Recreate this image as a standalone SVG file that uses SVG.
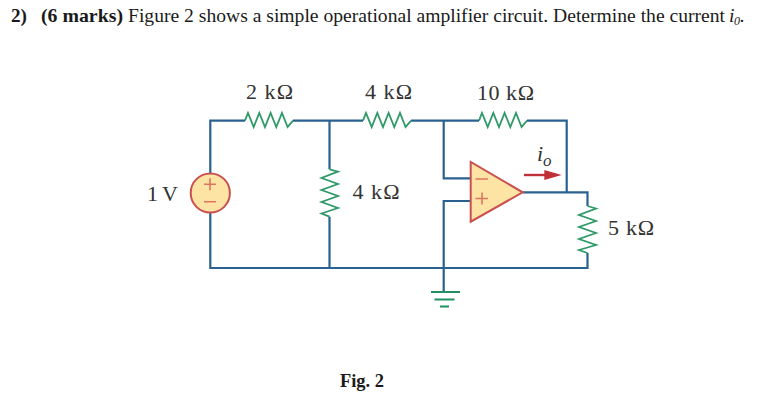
<svg xmlns="http://www.w3.org/2000/svg" width="774" height="402" viewBox="0 0 774 402">
<style>
text{font-family:"Liberation Serif",serif;fill:#333}
.t{font-size:19.500px;fill:#1a1a1a}
.b{font-weight:bold}
.l{font-size:22px}
.w{fill:none;stroke:#2a6191;stroke-width:2.200}
.r{fill:none;stroke:#2f9a68;stroke-width:1.800}
.s{fill:#fde4a4;stroke:#c9504f;stroke-width:2}
.p{fill:none;stroke:#dd7560;stroke-width:1.600}
.g{fill:none;stroke:#1f9160;stroke-width:2}
</style>
<rect width="774" height="402" fill="#fff"/>
<g id="title">
<text class="t b" x="11" y="22" textLength="16" lengthAdjust="spacingAndGlyphs">2)</text>
<text class="t b" x="41" y="22" textLength="82" lengthAdjust="spacingAndGlyphs">(6 marks)</text>
<text class="t" x="128" y="22" textLength="597" lengthAdjust="spacingAndGlyphs">Figure 2 shows a simple operational amplifier circuit. Determine the current</text>
<text class="t" x="729" y="22" font-style="italic">i</text>
<text x="734" y="25" style="font-size:12px;fill:#1a1a1a" font-style="italic">0</text>
<text class="t" x="739.500" y="22">.</text>
</g>
<g id="connectors">
<path class="w" d="M210.300 173.500V120.700H245M293 120.700H363M411 120.700H479M527 120.700H566.700V192.300M329.500 120.700V169.300M329.500 216.700V268M210.300 212.500V268H587.500V253M587.500 206V192.300H522.700M443.700 120.700V178.300H470.700M470.700 201H443.700V292"/>
</g>
<g id="r1"><path class="r" d="M245 120.700L248 113L253.700 127L259.300 113L265 127L270.600 113L276.300 127L282 113L287.600 127L293 120.700"/><text class="l" x="246" y="99" textLength="47">2 kΩ</text></g>
<g id="r2"><path class="r" d="M363 120.700L366 113L371.700 127L377.300 113L383 127L388.600 113L394.300 127L400 113L405.600 127L411 120.700"/><text class="l" x="365" y="99" textLength="47">4 kΩ</text></g>
<g id="r3"><path class="r" d="M479 120.700L482 113L487.700 127L493.300 113L499 127L504.600 113L510.300 127L516 113L521.600 127L527 120.700"/><text class="l" x="477" y="99.500" textLength="57">10 kΩ</text></g>
<g id="r4"><path class="r" d="M329.500 169.300L338 171.700L321.500 178L338 184L321.500 190L338 196L321.500 202L338 208L321.500 213.500L329.500 216.700"/><text class="l" x="352.500" y="199" textLength="47">4 kΩ</text></g>
<g id="r5"><path class="r" d="M587.500 206L596 208.500L579 215L596 221L579 227L596 233L579 239L596 245L579 250L587.500 253"/><text class="l" x="608" y="235" textLength="46">5 kΩ</text></g>
<g id="source"><circle class="s" cx="210.300" cy="193" r="19.600"/><path class="p" d="M204 184.300H216M210 178.300V190.300M204 201.700H216"/><text class="l" x="147" y="200.500" textLength="31">1 V</text></g>
<g id="opamp"><path class="s" d="M470.700 162V221.700L522.700 192.300Z"/><path class="p" d="M475.500 179H488M475.500 198.500H488M482 192.500V204.500"/></g>
<g id="ground"><path class="g" d="M431 292H460M434.500 299.500H454.500M440 306.500H449"/></g>
<g id="io"><path d="M524 175H546" stroke="#bf3038" stroke-width="2.400"/><path d="M544.300 170L561.700 175L544.300 180Z" fill="#bf3038"/><text x="537" y="160.500" font-style="italic" style="font-size:22px">i</text><text x="543" y="166" font-style="italic" style="font-size:17px">o</text></g>
<g id="figlabel"><text class="b" x="340" y="387" textLength="44" lengthAdjust="spacingAndGlyphs" style="font-size:19px;fill:#1a1a1a">Fig. 2</text></g>
</svg>
